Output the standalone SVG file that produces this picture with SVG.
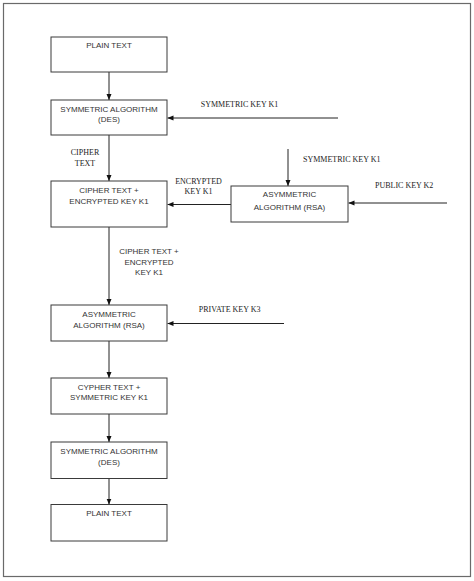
<svg xmlns="http://www.w3.org/2000/svg" width="474" height="581" viewBox="0 0 474 581">
<defs>
<style>
.box{fill:#fff;stroke:#3a3a3a;stroke-width:1}
.t{font-family:"Liberation Sans",Arial,sans-serif;font-size:8px;fill:#333;text-anchor:middle}
.s{font-family:"Liberation Serif","Times New Roman",serif;font-size:8px;fill:#222}
.c{text-anchor:middle}
.ln{stroke:#222;stroke-width:1;fill:none;marker-end:url(#ah)}
</style>
<marker id="ah" markerUnits="userSpaceOnUse" markerWidth="6" markerHeight="6" refX="6" refY="3" orient="auto">
<path d="M0,0.5 L6,3 L0,5.5 z" fill="#111"/>
</marker>
</defs>
<rect x="0" y="0" width="474" height="581" fill="#fff"/>
<rect x="3.5" y="3.5" width="467" height="573" fill="none" stroke="#6a6a6a" stroke-width="1.2"/>

<g id="connectors">
<line class="ln" x1="109" y1="72" x2="109" y2="100"/>
<line class="ln" x1="338" y1="118" x2="167.5" y2="118"/>
<line class="ln" x1="109" y1="135" x2="109" y2="181"/>
<line class="ln" x1="288" y1="149" x2="288" y2="186"/>
<line class="ln" x1="447" y1="203" x2="348.5" y2="203"/>
<line class="ln" x1="231" y1="204.5" x2="167.5" y2="204.5"/>
<line class="ln" x1="109" y1="227" x2="109" y2="305"/>
<line class="ln" x1="284" y1="323.5" x2="167.5" y2="323.5"/>
<line class="ln" x1="109" y1="341" x2="109" y2="378"/>
<line class="ln" x1="109" y1="414" x2="109" y2="442"/>
<line class="ln" x1="109" y1="478.5" x2="109" y2="504.5"/>
<text class="s" x="200.7" y="107">SYMMETRIC KEY K1</text>
<text class="s c" x="85" y="155">CIPHER</text>
<text class="s c" x="85" y="166">TEXT</text>
<text class="s c" x="198.5" y="184">ENCRYPTED</text>
<text class="s c" x="198.5" y="194">KEY K1</text>
<text class="s" x="303" y="161.7">SYMMETRIC KEY K1</text>
<text class="s" x="375" y="188">PUBLIC KEY K2</text>
<text class="t" x="149" y="254">CIPHER TEXT +</text>
<text class="t" x="149" y="265.3">ENCRYPTED</text>
<text class="t" x="149" y="275.3">KEY K1</text>
<text class="s" x="198.7" y="312">PRIVATE KEY K3</text>
</g>

<g id="plain1">
<rect class="box" x="51" y="37" width="116" height="35"/>
<text class="t" x="109" y="48">PLAIN TEXT</text>
</g>
<g id="sym1">
<rect class="box" x="51" y="100" width="116" height="35"/>
<text class="t" x="109" y="111.6">SYMMETRIC ALGORITHM</text>
<text class="t" x="109" y="122">(DES)</text>
</g>
<g id="cipher1">
<rect class="box" x="51" y="181" width="116" height="46"/>
<text class="t" x="109" y="193">CIPHER TEXT +</text>
<text class="t" x="109" y="204">ENCRYPTED KEY K1</text>
</g>
<g id="asym1">
<rect class="box" x="231" y="186" width="117" height="36"/>
<text class="t" x="289.5" y="197">ASYMMETRIC</text>
<text class="t" x="289.5" y="209.6">ALGORITHM (RSA)</text>
</g>
<g id="asym2">
<rect class="box" x="51" y="305" width="116" height="36"/>
<text class="t" x="109" y="317">ASYMMETRIC</text>
<text class="t" x="109" y="327.6">ALGORITHM (RSA)</text>
</g>
<g id="cypher2">
<rect class="box" x="51" y="378" width="116" height="36"/>
<text class="t" x="109" y="389.6">CYPHER TEXT +</text>
<text class="t" x="109" y="399.6">SYMMETRIC KEY K1</text>
</g>
<g id="sym2">
<rect class="box" x="51" y="442" width="116" height="36.5"/>
<text class="t" x="109" y="454">SYMMETRIC ALGORITHM</text>
<text class="t" x="109" y="465.2">(DES)</text>
</g>
<g id="plain2">
<rect class="box" x="51" y="504.5" width="116" height="36.5"/>
<text class="t" x="109" y="516">PLAIN TEXT</text>
</g>
</svg>
